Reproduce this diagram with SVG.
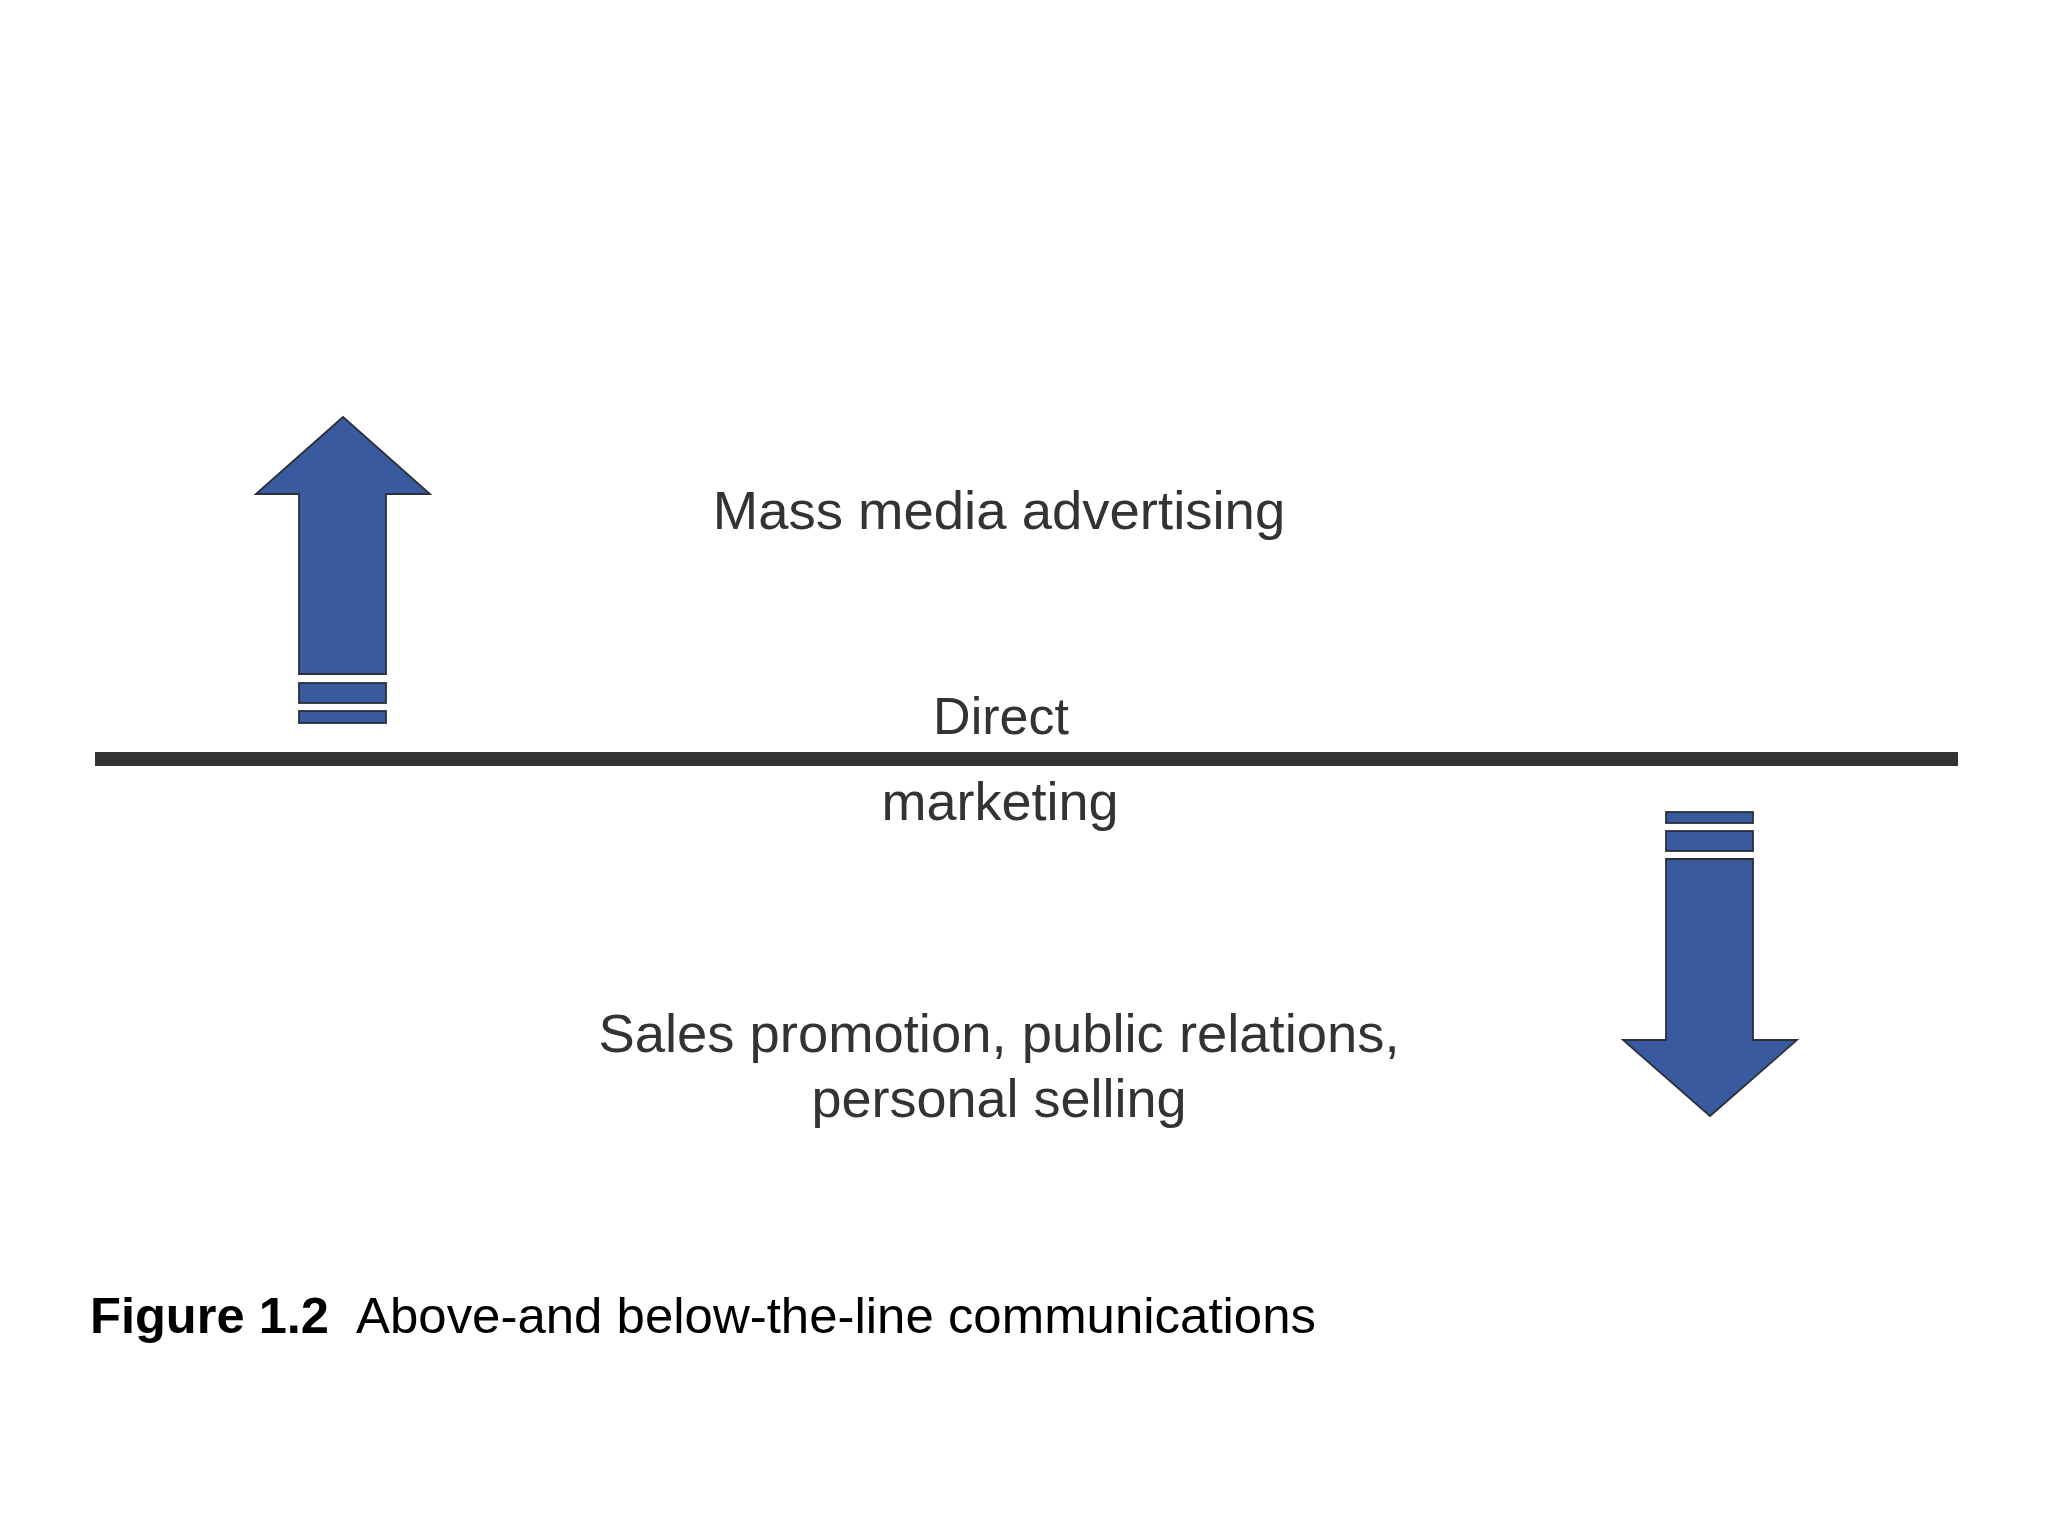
<svg xmlns="http://www.w3.org/2000/svg" width="2048" height="1536" viewBox="0 0 2048 1536">
<style>
.arr{fill:#3A5AA0;stroke:#2a2f3a;stroke-width:1.8;stroke-linejoin:miter}
.lbl{font-family:"Liberation Sans",Arial,sans-serif;fill:#333333;text-anchor:middle}
.cap{font-family:"Liberation Sans",Arial,sans-serif;fill:#000000;font-size:50px}
</style>
<rect x="0" y="0" width="2048" height="1536" fill="#ffffff"/>
<g id="connectors">
<rect id="line" x="95" y="752" width="1863" height="14" fill="#333333"/>
</g>
<g id="up-arrow">
<polygon class="arr" points="343,417 430,494 386,494 386,674 299,674 299,494 256,494"/>
<rect class="arr" x="299" y="683" width="87" height="20"/>
<rect class="arr" x="299" y="711" width="87" height="12"/>
</g>
<g id="down-arrow">
<rect class="arr" x="1666" y="812" width="87" height="11"/>
<rect class="arr" x="1666" y="831" width="87" height="20"/>
<polygon class="arr" points="1666,859 1753,859 1753,1040 1797,1040 1710,1116 1623,1040 1666,1040"/>
</g>
<g id="above">
<text class="lbl" x="999" y="529" font-size="54.5">Mass media advertising</text>
</g>
<g id="direct">
<text class="lbl" x="1001" y="734" font-size="52">Direct</text>
<text class="lbl" x="1000" y="820" font-size="54">marketing</text>
</g>
<g id="below">
<text class="lbl" x="999" y="1052" font-size="54.4">Sales promotion, public relations,</text>
<text class="lbl" x="999" y="1117" font-size="54">personal selling</text>
</g>
<g id="caption">
<text class="cap" x="90" y="1333"><tspan font-weight="bold" textLength="239" lengthAdjust="spacingAndGlyphs">Figure 1.2</tspan><tspan x="356" textLength="960" lengthAdjust="spacingAndGlyphs">Above-and below-the-line communications</tspan></text>
</g>
</svg>
